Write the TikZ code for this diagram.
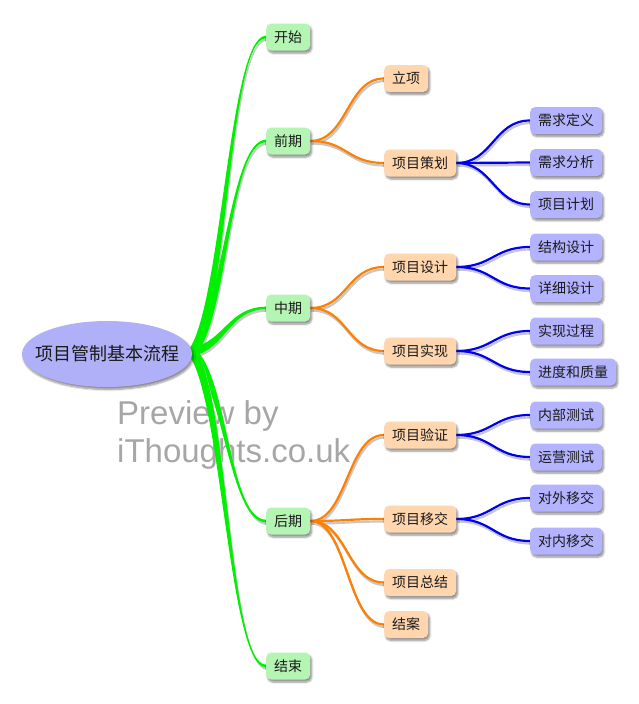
\documentclass[tikz,border=0pt]{standalone}
\usepackage{fontspec}
\setmainfont{Liberation Sans}
\newfontfamily\cjk{Noto Sans CJK SC}
\usetikzlibrary{calc,shapes.geometric,shadows.blur}
\definecolor{gfill}{HTML}{B4F5B4}
\definecolor{ofill}{HTML}{FFD6AE}
\definecolor{pfill}{HTML}{B3B3FF}
\definecolor{rfill}{HTML}{B0B0F8}
\definecolor{gcol}{HTML}{00F000}
\definecolor{ocol}{HTML}{FF8000}
\definecolor{bcol}{HTML}{0000F0}
\definecolor{txt}{HTML}{1A1A1A}
\definecolor{wmcol}{HTML}{A6A6A6}
\pgfdeclarelayer{wm}
\pgfdeclarelayer{bg}
\pgfsetlayers{wm,bg,main}
\newcommand\gbranch[4]{%
  \fill[gedge] ($(rp)+(#3,#4)$) .. controls ($(rp)+(33,#2)+(#3,#4)$) and ($(#1.west)+(-37,-1.3)$) .. ($(#1.west)+(0,-1.3)$)
    -- ($(#1.west)+(0,1.3)$) .. controls ($(#1.west)+(-37,1.3)$) and ($(rp)+(33,#2)-(#3,#4)$) .. ($(rp)-(#3,#4)$) -- cycle;}
\begin{document}
\begin{tikzpicture}[x=1pt,y=-1pt,
  shad/.style={blur shadow={shadow xshift=1.5pt, shadow yshift=-2.5pt, shadow blur radius=2pt, shadow blur steps=6, shadow opacity=45}},
  nbox/.style={rounded corners=5pt, minimum height=27pt, inner xsep=8pt, inner ysep=0pt,
    text height=11.9pt, text depth=1.4pt, font=\cjk\fontsize{14}{16}\selectfont, text=txt, anchor=west, shad},
  lone/.style={nbox, fill=gfill},
  ltwo/.style={nbox, fill=ofill},
  lthree/.style={nbox, fill=pfill},
  gedge/.style={fill=gcol, preaction={fill=black!22, transform canvas={xshift=1pt,yshift=-2.5pt}}},
  oedge/.style={draw=ocol, line width=2.2pt, preaction={draw=black!22, line width=2.2pt, transform canvas={xshift=1pt,yshift=-2.5pt}}},
  bedge/.style={draw=bcol, line width=2.2pt, preaction={draw=black!22, line width=2.2pt, transform canvas={xshift=1pt,yshift=-2.5pt}}},
]
\useasboundingbox (0,0) rectangle (638,704);

% root
\node[ellipse, fill=rfill, minimum width=170pt, minimum height=66pt, inner sep=0pt,
  font=\cjk\fontsize{18}{20}\selectfont, text=txt, shad] (root) at (107,354) {\makebox[0pt]{项目管制基本流程}};
\coordinate (rp) at ($(root.east)+(0,-2)$);

% level 1
\node[lone] (s)  at (266,37)  {开始};
\node[lone] (p1) at (266,141) {前期};
\node[lone] (p2) at (266,308) {中期};
\node[lone] (p3) at (266,521) {后期};
\node[lone] (e)  at (266,666) {结束};

% level 2
\node[ltwo] (a1) at (384,78.5) {立项};
\node[ltwo] (a2) at (384,163)  {项目策划};
\node[ltwo] (b1) at (384,267)  {项目设计};
\node[ltwo] (b2) at (384,351)  {项目实现};
\node[ltwo] (c1) at (384,435)  {项目验证};
\node[ltwo] (c2) at (384,519)  {项目移交};
\node[ltwo] (c3) at (384,582.5){项目总结};
\node[ltwo] (c4) at (384,624.5){结案};

% level 3
\node[lthree] (a21) at (530,120.5) {需求定义};
\node[lthree] (a22) at (530,162.5) {需求分析};
\node[lthree] (a23) at (530,204.5) {项目计划};
\node[lthree] (b11) at (530,247)   {结构设计};
\node[lthree] (b12) at (530,288.5) {详细设计};
\node[lthree] (b21) at (530,331)   {实现过程};
\node[lthree] (b22) at (530,372)   {进度和质量};
\node[lthree] (c11) at (530,415)   {内部测试};
\node[lthree] (c12) at (530,457)   {运营测试};
\node[lthree] (c21) at (530,498)   {对外移交};
\node[lthree] (c22) at (530,541)   {对内移交};

\begin{pgfonlayer}{wm}
\node[anchor=base west, align=left, inner sep=0pt, text=wmcol, font=\fontsize{33}{38}\selectfont] (wmk) at (117,462) {Preview by\\iThoughts.co.uk};
\end{pgfonlayer}

\begin{pgfonlayer}{bg}
\gbranch{s}{-47}{-3.3}{-2.3}
\gbranch{p1}{-32}{-2.8}{-2.9}
\gbranch{p2}{-7}{-0.8}{-3.9}
\gbranch{p3}{25}{2.4}{-3.2}
\gbranch{e}{47}{3.3}{-2.3}

\foreach \a/\b in {p1/a1,p1/a2,p2/b1,p2/b2,p3/c1,p3/c2,p3/c3,p3/c4}
  \draw[oedge] (\a.east) .. controls +(37,0) and +(-37,0) .. (\b.west);
\foreach \a/\b in {a2/a21,a2/a22,a2/a23,b1/b11,b1/b12,b2/b21,b2/b22,c1/c11,c1/c12,c2/c21,c2/c22}
  \draw[bedge] (\a.east) .. controls +(36,0) and +(-36,0) .. (\b.west);
\end{pgfonlayer}
\end{tikzpicture}
\end{document}
